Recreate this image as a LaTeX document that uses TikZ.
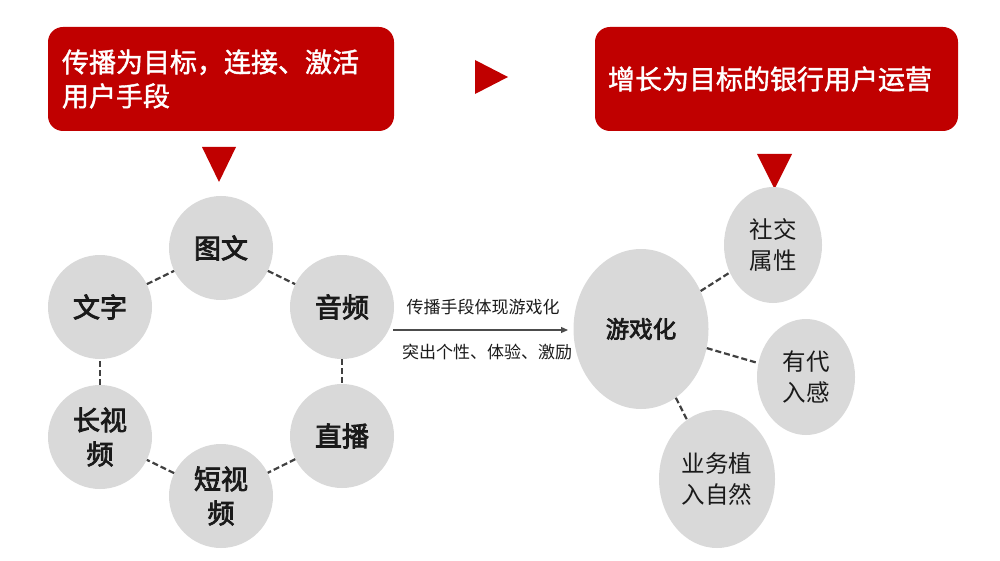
\documentclass[tikz,border=0pt]{standalone}
\usepackage{fontspec}
\setmainfont{Noto Sans CJK SC}
\newfontfamily\boxfont[FakeBold=1.5]{Noto Sans CJK SC}
\newfontfamily\circfont[FakeBold=3]{Noto Sans CJK SC}
\usetikzlibrary{shapes.geometric,arrows.meta}
\definecolor{myred}{HTML}{C00000}
\definecolor{circgray}{HTML}{D9D9D9}
\definecolor{dashgray}{HTML}{404040}
\definecolor{txt}{HTML}{1A1A1A}
\tikzset{
  redbox/.style={fill=myred, rounded corners=15pt, minimum height=104pt, inner ysep=0pt, align=left, text=white, font=\boxfont\fontsize{27}{34}\selectfont},
  leftcirc/.style={circle, fill=circgray, minimum size=104pt, inner sep=0pt, align=center, text=txt, font=\circfont\fontsize{27}{34}\selectfont},
  rightell/.style={ellipse, fill=circgray, inner sep=0pt, align=center, text=txt, font=\fontsize{23.5}{31}\selectfont},
  dashlink/.style={draw=dashgray, line width=2.2pt, dash pattern=on 6pt off 3pt},
  tri/.style={fill=myred},
  midlabel/.style={text=txt, font=\fontsize{17}{20}\selectfont}
}
\begin{document}
\begin{tikzpicture}[x=1pt,y=-1pt]
\useasboundingbox (0,0) rectangle (1000,561);
% red boxes
\node[redbox, text width=318pt, inner xsep=14pt] (b1) at (221,79) {传播为目标，连接、激活\\用户手段};
\node[redbox, text width=337pt, inner xsep=13pt] (b2) at (776.5,79) {增长为目标的银行用户运营};
% triangles
\fill[tri] (475,60) -- (508,77) -- (475,94) -- cycle;
\fill[tri] (202,147) -- (236,147) -- (219,182) -- cycle;
\fill[tri] (757,154) -- (792,154) -- (774.5,189) -- cycle;
% left circles
\node[leftcirc] (tw) at (221,248) {图文};
\node[leftcirc] (wz) at (100,307) {文字};
\node[leftcirc] (yp) at (342,307) {音频};
\node[leftcirc] (csp) at (100,437) {长视\\频};
\node[leftcirc] (zb) at (342,436) {直播};
\node[leftcirc] (dsp) at (221,496) {短视\\频};
\draw[dashlink] (wz) -- (tw);
\draw[dashlink] (tw) -- (yp);
\draw[dashlink] (yp) -- (zb);
\draw[dashlink] (zb) -- (dsp);
\draw[dashlink] (dsp) -- (csp);
\draw[dashlink] (csp) -- (wz);
% right ellipses
\node[rightell, minimum width=135pt, minimum height=160pt, font=\circfont\fontsize{23.5}{31}\selectfont] (yxh) at (641,329) {游戏化};
\node[rightell, minimum width=98pt, minimum height=116pt] (sj) at (773,245) {社交\\属性};
\node[rightell, minimum width=98pt, minimum height=116pt] (yd) at (806,377) {有代\\入感};
\node[rightell, minimum width=116pt, minimum height=138pt] (yw) at (717,479) {业务植\\入自然};
\draw[dashlink] (yxh) -- (sj);
\draw[dashlink] (yxh) -- (yd);
\draw[dashlink] (yxh) -- (yw);
% middle arrow
\coordinate (as) at (393,330);
\coordinate (ae) at (568,330);
\draw[draw=black!70, line width=1.2pt, -{Triangle[length=7pt,width=6pt]}] (as) -- (ae);
\node[midlabel] (l1) at (483,307) {传播手段体现游戏化};
\node[midlabel] (l2) at (487,352) {突出个性、体验、激励};
\end{tikzpicture}
\end{document}
